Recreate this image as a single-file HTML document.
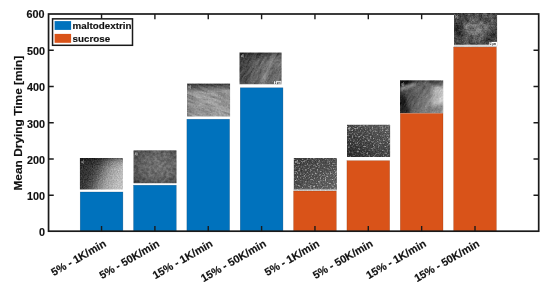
<!DOCTYPE html>
<html lang="en"><head><meta charset="utf-8"><title>Mean Drying Time</title>
<style>html,body{margin:0;padding:0;background:#fff}svg{display:block}text{font-family:"Liberation Sans",sans-serif;font-weight:bold;fill:#111;stroke:#111;stroke-width:0.15px}</style></head><body>
<svg width="550" height="288" viewBox="0 0 550 288">
<defs>
<clipPath id="cp"><rect width="43.4" height="33.4"/></clipPath>
<!-- fine grain -->
<filter id="nz" x="0" y="0" width="100%" height="100%" color-interpolation-filters="sRGB">
<feTurbulence type="fractalNoise" baseFrequency="0.8" numOctaves="2" seed="4" result="t"/>
<feColorMatrix in="t" type="matrix" values="1 0 0 0 0  1 0 0 0 0  1 0 0 0 0  0 0 0 0 1" result="g"/>
<feComposite in="SourceGraphic" in2="g" operator="arithmetic" k1="0" k2="1" k3="0.28" k4="-0.14"/>
</filter>
<!-- mottled blobs -->
<filter id="nzb" x="0" y="0" width="100%" height="100%" color-interpolation-filters="sRGB">
<feTurbulence type="fractalNoise" baseFrequency="0.33" numOctaves="3" seed="7" result="t"/>
<feColorMatrix in="t" type="matrix" values="1 0 0 0 0  1 0 0 0 0  1 0 0 0 0  0 0 0 0 1" result="g"/>
<feComposite in="SourceGraphic" in2="g" operator="arithmetic" k1="0" k2="1" k3="0.3" k4="-0.15"/>
</filter>
<!-- cloudy -->
<filter id="nzc" x="0" y="0" width="100%" height="100%" color-interpolation-filters="sRGB">
<feTurbulence type="fractalNoise" baseFrequency="0.2" numOctaves="3" seed="21" result="t"/>
<feColorMatrix in="t" type="matrix" values="1 0 0 0 0  1 0 0 0 0  1 0 0 0 0  0 0 0 0 1" result="g"/>
<feTurbulence type="fractalNoise" baseFrequency="0.8" numOctaves="2" seed="3" result="t2"/>
<feColorMatrix in="t2" type="matrix" values="1 0 0 0 0  1 0 0 0 0  1 0 0 0 0  0 0 0 0 1" result="g2"/>
<feComposite in="SourceGraphic" in2="g" operator="arithmetic" k1="0" k2="1" k3="0.38" k4="-0.19" result="c1"/>
<feComposite in="c1" in2="g2" operator="arithmetic" k1="0" k2="1" k3="0.3" k4="-0.15"/>
</filter>
<!-- white speckle -->
<filter id="nzs" x="0" y="0" width="100%" height="100%" color-interpolation-filters="sRGB">
<feTurbulence type="fractalNoise" baseFrequency="0.6" numOctaves="2" seed="9" result="t"/>
<feColorMatrix in="t" type="matrix" values="3.2 0 0 0 -1.72  3.2 0 0 0 -1.72  3.2 0 0 0 -1.72  0 0 0 0 1" result="g"/>
<feTurbulence type="fractalNoise" baseFrequency="0.8" numOctaves="2" seed="2" result="t2"/>
<feColorMatrix in="t2" type="matrix" values="1 0 0 0 0  1 0 0 0 0  1 0 0 0 0  0 0 0 0 1" result="g2"/>
<feComposite in="SourceGraphic" in2="g" operator="arithmetic" k1="0" k2="1" k3="0.42" k4="-0.03" result="c1"/>
<feComposite in="c1" in2="g2" operator="arithmetic" k1="0" k2="1" k3="0.24" k4="-0.12"/>
</filter>
<!-- streaks (long in x) + grain -->
<filter id="nzk" x="0" y="0" width="100%" height="100%" color-interpolation-filters="sRGB">
<feTurbulence type="fractalNoise" baseFrequency="0.07 0.45" numOctaves="3" seed="12" result="t"/>
<feColorMatrix in="t" type="matrix" values="1 0 0 0 0  1 0 0 0 0  1 0 0 0 0  0 0 0 0 1" result="g"/>
<feTurbulence type="fractalNoise" baseFrequency="0.75" numOctaves="2" seed="5" result="t2"/>
<feColorMatrix in="t2" type="matrix" values="1 0 0 0 0  1 0 0 0 0  1 0 0 0 0  0 0 0 0 1" result="g2"/>
<feComposite in="SourceGraphic" in2="g" operator="arithmetic" k1="0" k2="1" k3="0.3" k4="-0.15" result="c1"/>
<feComposite in="c1" in2="g2" operator="arithmetic" k1="0" k2="1" k3="0.3" k4="-0.15"/>
</filter>
<filter id="nzk2" x="0" y="0" width="100%" height="100%" color-interpolation-filters="sRGB">
<feTurbulence type="fractalNoise" baseFrequency="0.09 0.6" numOctaves="3" seed="31" result="t"/>
<feColorMatrix in="t" type="matrix" values="1 0 0 0 0  1 0 0 0 0  1 0 0 0 0  0 0 0 0 1" result="g"/>
<feTurbulence type="fractalNoise" baseFrequency="0.75" numOctaves="2" seed="5" result="t2"/>
<feColorMatrix in="t2" type="matrix" values="1 0 0 0 0  1 0 0 0 0  1 0 0 0 0  0 0 0 0 1" result="g2"/>
<feComposite in="SourceGraphic" in2="g" operator="arithmetic" k1="0" k2="1" k3="0.22" k4="-0.11" result="c1"/>
<feComposite in="c1" in2="g2" operator="arithmetic" k1="0" k2="1" k3="0.24" k4="-0.12"/>
</filter>
<filter id="bl1" x="-20%" y="-20%" width="140%" height="140%"><feGaussianBlur stdDeviation="1.6"/></filter>
<filter id="bl2" x="-20%" y="-20%" width="140%" height="140%"><feGaussianBlur stdDeviation="0.8"/></filter>

<linearGradient id="g1" gradientUnits="userSpaceOnUse" x1="-0.5" y1="6.15" x2="45.5" y2="25.65"><stop offset="0" stop-color="#2c2c2c"/><stop offset="0.26" stop-color="#383838"/><stop offset="0.4" stop-color="#545454"/><stop offset="0.5" stop-color="#787878"/><stop offset="0.64" stop-color="#a0a0a0"/><stop offset="0.85" stop-color="#bcbcbc"/><stop offset="1" stop-color="#c4c4c4"/></linearGradient>
<linearGradient id="gtop" x1="0" y1="0" x2="0" y2="1"><stop offset="0" stop-color="#000" stop-opacity="0.75"/><stop offset="0.07" stop-color="#000" stop-opacity="0.4"/><stop offset="0.28" stop-color="#000" stop-opacity="0"/></linearGradient>
<linearGradient id="gtop1" x1="0" y1="0" x2="0" y2="1"><stop offset="0" stop-color="#000" stop-opacity="0.45"/><stop offset="0.1" stop-color="#000" stop-opacity="0.15"/><stop offset="0.3" stop-color="#000" stop-opacity="0"/></linearGradient>
<radialGradient id="g2" cx="0.58" cy="0.48" r="0.72"><stop offset="0" stop-color="#747474"/><stop offset="0.55" stop-color="#626262"/><stop offset="1" stop-color="#444"/></radialGradient>
<linearGradient id="g3" x1="0" y1="0" x2="1" y2="0"><stop offset="0" stop-color="#7a7a7a"/><stop offset="0.3" stop-color="#939393"/><stop offset="1" stop-color="#979797"/></linearGradient>
<linearGradient id="g4" x1="0" y1="0.3" x2="1" y2="0.6"><stop offset="0" stop-color="#222"/><stop offset="0.22" stop-color="#3e3e3e"/><stop offset="0.55" stop-color="#6c6c6c"/><stop offset="1" stop-color="#626262"/></linearGradient>
<linearGradient id="g5" x1="0" y1="0" x2="1" y2="1"><stop offset="0" stop-color="#424242"/><stop offset="0.5" stop-color="#565656"/><stop offset="1" stop-color="#6e6e6e"/></linearGradient>
<linearGradient id="g6" x1="0" y1="1" x2="1" y2="0"><stop offset="0" stop-color="#303030"/><stop offset="0.5" stop-color="#4c4c4c"/><stop offset="1" stop-color="#666"/></linearGradient>
<linearGradient id="g7" gradientUnits="userSpaceOnUse" x1="0" y1="12" x2="43" y2="19"><stop offset="0" stop-color="#303030"/><stop offset="0.15" stop-color="#4c4c4c"/><stop offset="0.42" stop-color="#6a6a6a"/><stop offset="0.68" stop-color="#868686"/><stop offset="0.8" stop-color="#b2b2b2"/><stop offset="1" stop-color="#c6c6c6"/></linearGradient>
<radialGradient id="g8" cx="0.55" cy="0.5" r="0.6"><stop offset="0" stop-color="#727272"/><stop offset="0.5" stop-color="#5a5a5a"/><stop offset="1" stop-color="#424242"/></radialGradient>

<g id="sem1" clip-path="url(#cp)"><g filter="url(#nz)"><rect width="43.4" height="33.4" fill="url(#g1)"/><rect width="43.4" height="33.4" fill="url(#gtop1)"/></g><text x="1.4" y="4.8" font-size="3.3" style="fill:#fff;stroke:none;font-weight:normal" opacity="0.75">a)</text></g>

<g id="sem2" clip-path="url(#cp)"><g filter="url(#nzb)"><rect width="43.4" height="33.4" fill="url(#g2)"/></g><text x="1.4" y="4.8" font-size="3.3" style="fill:#fff;stroke:none;font-weight:normal" opacity="0.75">b)</text></g>

<g id="sem3" clip-path="url(#cp)"><g transform="rotate(20 21.5 15.9)" filter="url(#nzk)"><g transform="rotate(-20 21.5 15.9)"><rect x="-12" y="-12" width="67" height="56" fill="url(#g3)"/><rect width="43.4" height="33.4" fill="url(#gtop)"/><path d="M8 10L40 24L40 27L8 14Z" fill="#fff" opacity="0.22" filter="url(#bl1)"/></g></g><text x="1.4" y="4.8" font-size="3.3" style="fill:#fff;stroke:none;font-weight:normal" opacity="0.75">c)</text></g>

<g id="sem4" clip-path="url(#cp)"><g transform="rotate(-58 21.5 15.9)" filter="url(#nzk)"><g transform="rotate(58 21.5 15.9)"><rect x="-14" y="-14" width="71" height="60" fill="url(#g4)"/><rect width="43.4" height="33.4" fill="url(#gtop1)"/><path d="M20 32L33 0L36 0L24 32Z" fill="#fff" opacity="0.2" filter="url(#bl2)"/></g></g><text x="1.4" y="4.8" font-size="3.3" style="fill:#fff;stroke:none;font-weight:normal" opacity="0.75">d)</text><rect x="34.6" y="28.6" width="7.5" height="3.1" fill="#fff"/><text x="35.2" y="31.1" font-size="2.6" style="fill:#222;stroke:none">2 µm</text></g>

<g id="sem5" clip-path="url(#cp)"><g filter="url(#nzs)"><rect width="43.4" height="33.4" fill="url(#g5)"/></g><rect y="30.9" width="43" height="0.9" fill="#c8c8c8" opacity="0.8"/><text x="1.4" y="4.8" font-size="3.3" style="fill:#fff;stroke:none;font-weight:normal" opacity="0.75">e)</text></g>

<g id="sem6" clip-path="url(#cp)"><g filter="url(#nzs)"><rect width="43.4" height="33.4" fill="url(#g6)"/></g><text x="1.4" y="4.8" font-size="3.3" style="fill:#fff;stroke:none;font-weight:normal" opacity="0.75">f)</text></g>

<g id="sem7" clip-path="url(#cp)"><g transform="rotate(-60 21.5 15.9)" filter="url(#nzk2)"><g transform="rotate(60 21.5 15.9)"><rect x="-14" y="-14" width="71" height="60" fill="url(#g7)"/>
<path d="M0 0L12 0L9 4L0 6Z" fill="#000" opacity="0.7" filter="url(#bl2)"/>
<path d="M0 14L6 16L10 34L0 34Z" fill="#000" opacity="0.55" filter="url(#bl1)"/><path d="M29 27L44 23L44 34L27 34Z" fill="#000" opacity="0.28" filter="url(#bl1)"/>
<path d="M0 6.5L14 2.5L17 4.5L0 11Z" fill="#fff" opacity="0.45" filter="url(#bl2)"/>
<path d="M28 0L43 0L43 6L33 5Z" fill="#000" opacity="0.5" filter="url(#bl1)"/>
<path d="M27 4L17 20L10 31M23 5L14 20M31 6L22 20L17 31" fill="none" stroke="#000" stroke-width="0.9" opacity="0.3" filter="url(#bl2)"/>
<path d="M24 6C27 9 30 12 29 18" fill="none" stroke="#000" stroke-width="1" opacity="0.35" filter="url(#bl2)"/>
<rect width="43.4" height="33.4" fill="url(#gtop1)"/></g></g><text x="1.4" y="4.8" font-size="3.3" style="fill:#fff;stroke:none;font-weight:normal" opacity="0.75">g)</text></g>

<g id="sem8" clip-path="url(#cp)"><g filter="url(#nzc)"><rect width="43.4" height="33.4" fill="url(#g8)"/>
<path d="M1 10L8 12L9 20L4 24L0 22Z" fill="#000" opacity="0.5" filter="url(#bl1)"/>
<path d="M30 20L43 16L43 30L30 30Z" fill="#000" opacity="0.25" filter="url(#bl1)"/>
<path d="M12 14C18 10 26 12 28 17C27 21 20 22 14 20" fill="none" stroke="#fff" stroke-width="1.6" opacity="0.3" filter="url(#bl2)"/>
</g><text x="1.4" y="4.8" font-size="3.3" style="fill:#fff;stroke:none;font-weight:normal" opacity="0.75">h)</text><rect y="31.6" width="43.4" height="1.8" fill="#dadada"/><rect x="35.4" y="28.8" width="7.8" height="3.7" fill="#fff"/><text x="36" y="31.6" font-size="2.7" style="fill:#222;stroke:none">2 µm</text></g>
</defs>

<rect width="550" height="288" fill="#fff"/>
<rect x="80.20" y="192.00" width="42.7" height="39.30" fill="#0072bd" stroke="#003a66" stroke-opacity="0.55" stroke-width="0.45"/>
<rect x="133.55" y="185.20" width="42.7" height="46.10" fill="#0072bd" stroke="#003a66" stroke-opacity="0.55" stroke-width="0.45"/>
<rect x="186.90" y="119.20" width="42.7" height="112.10" fill="#0072bd" stroke="#003a66" stroke-opacity="0.55" stroke-width="0.45"/>
<rect x="240.25" y="87.80" width="42.7" height="143.50" fill="#0072bd" stroke="#003a66" stroke-opacity="0.55" stroke-width="0.45"/>
<rect x="293.60" y="191.00" width="42.7" height="40.30" fill="#d95319" stroke="#7a2a06" stroke-opacity="0.55" stroke-width="0.45"/>
<rect x="346.95" y="160.70" width="42.7" height="70.60" fill="#d95319" stroke="#7a2a06" stroke-opacity="0.55" stroke-width="0.45"/>
<rect x="400.30" y="113.40" width="42.7" height="117.90" fill="#d95319" stroke="#7a2a06" stroke-opacity="0.55" stroke-width="0.45"/>
<rect x="453.65" y="47.10" width="42.7" height="184.20" fill="#d95319" stroke="#7a2a06" stroke-opacity="0.55" stroke-width="0.45"/>
<rect x="48.55" y="14.0" width="490.15" height="217.20" fill="none" stroke="#1a1a1a" stroke-width="1.7"/>
<path d="M101.55 231.2v-5.2M101.55 14.0v5.2" stroke="#1a1a1a" stroke-width="1.4" fill="none"/>
<path d="M154.90 231.2v-5.2M154.90 14.0v5.2" stroke="#1a1a1a" stroke-width="1.4" fill="none"/>
<path d="M208.25 231.2v-5.2M208.25 14.0v5.2" stroke="#1a1a1a" stroke-width="1.4" fill="none"/>
<path d="M261.60 231.2v-5.2M261.60 14.0v5.2" stroke="#1a1a1a" stroke-width="1.4" fill="none"/>
<path d="M314.95 231.2v-5.2M314.95 14.0v5.2" stroke="#1a1a1a" stroke-width="1.4" fill="none"/>
<path d="M368.30 231.2v-5.2M368.30 14.0v5.2" stroke="#1a1a1a" stroke-width="1.4" fill="none"/>
<path d="M421.65 231.2v-5.2M421.65 14.0v5.2" stroke="#1a1a1a" stroke-width="1.4" fill="none"/>
<path d="M475.00 231.2v-5.2M475.00 14.0v5.2" stroke="#1a1a1a" stroke-width="1.4" fill="none"/>
<path d="M48.55 195.32h5.2M538.7 195.32h-5.2" stroke="#1a1a1a" stroke-width="1.4" fill="none"/>
<path d="M48.55 159.04h5.2M538.7 159.04h-5.2" stroke="#1a1a1a" stroke-width="1.4" fill="none"/>
<path d="M48.55 122.76h5.2M538.7 122.76h-5.2" stroke="#1a1a1a" stroke-width="1.4" fill="none"/>
<path d="M48.55 86.48h5.2M538.7 86.48h-5.2" stroke="#1a1a1a" stroke-width="1.4" fill="none"/>
<path d="M48.55 50.20h5.2M538.7 50.20h-5.2" stroke="#1a1a1a" stroke-width="1.4" fill="none"/>
<text x="45.1" y="236.10" font-size="10.8" text-anchor="end">0</text>
<text x="45.1" y="200.22" font-size="10.8" text-anchor="end">100</text>
<text x="45.1" y="163.94" font-size="10.8" text-anchor="end">200</text>
<text x="45.1" y="127.66" font-size="10.8" text-anchor="end">300</text>
<text x="45.1" y="91.38" font-size="10.8" text-anchor="end">400</text>
<text x="45.1" y="55.10" font-size="10.8" text-anchor="end">500</text>
<text x="44.6" y="18.10" font-size="10.8" text-anchor="end">600</text>
<text transform="translate(21.9 123.2) rotate(-90) scale(1.055 1)" font-size="11.3" text-anchor="middle">Mean Drying Time [min]</text>
<text transform="translate(106.85 245.7) rotate(-30)" font-size="10.8" text-anchor="end">5% - 1K/min</text>
<text transform="translate(160.20 245.7) rotate(-30)" font-size="10.8" text-anchor="end">5% - 50K/min</text>
<text transform="translate(213.55 245.7) rotate(-30)" font-size="10.8" text-anchor="end">15% - 1K/min</text>
<text transform="translate(266.90 245.7) rotate(-30)" font-size="10.8" text-anchor="end">15% - 50K/min</text>
<text transform="translate(320.25 245.7) rotate(-30)" font-size="10.8" text-anchor="end">5% - 1K/min</text>
<text transform="translate(373.60 245.7) rotate(-30)" font-size="10.8" text-anchor="end">5% - 50K/min</text>
<text transform="translate(426.95 245.7) rotate(-30)" font-size="10.8" text-anchor="end">15% - 1K/min</text>
<text transform="translate(480.30 245.7) rotate(-30)" font-size="10.8" text-anchor="end">15% - 50K/min</text>
<clipPath id="c1"><rect width="43.1" height="31.7"/></clipPath><g transform="translate(79.80 157.90)" clip-path="url(#c1)"><use href="#sem1"/></g>
<clipPath id="c2"><rect width="43.1" height="32.9"/></clipPath><g transform="translate(133.40 150.30)" clip-path="url(#c2)"><use href="#sem2"/></g>
<clipPath id="c3"><rect width="43.1" height="33.0"/></clipPath><g transform="translate(187.00 83.50)" clip-path="url(#c3)"><use href="#sem3"/></g>
<clipPath id="c4"><rect width="42.1" height="31.7"/></clipPath><g transform="translate(239.50 52.60)" clip-path="url(#c4)"><use href="#sem4"/></g>
<clipPath id="c5"><rect width="43.1" height="32.3"/></clipPath><g transform="translate(293.80 158.00)" clip-path="url(#c5)"><use href="#sem5"/></g>
<clipPath id="c6"><rect width="43.1" height="32.3"/></clipPath><g transform="translate(347.00 124.80)" clip-path="url(#c6)"><use href="#sem6"/></g>
<clipPath id="c7"><rect width="43.3" height="32.7"/></clipPath><g transform="translate(400.00 80.30)" clip-path="url(#c7)"><use href="#sem7"/></g>
<clipPath id="c8"><rect width="43.1" height="33.2"/></clipPath><g transform="translate(454.00 13.10)" clip-path="url(#c8)"><use href="#sem8"/></g>
<rect x="52.55" y="18.85" width="79.95" height="26.45" fill="#fff" stroke="#1a1a1a" stroke-width="1.5"/>
<rect x="54.6" y="21.1" width="16.5" height="8.8" fill="#0072bd"/>
<rect x="54.6" y="33.9" width="16.5" height="8.9" fill="#d95319"/>
<text transform="translate(72.6 29.25) scale(1.085 1)" font-size="9.05">maltodextrin</text>
<text transform="translate(72.6 42.25) scale(1.085 1)" font-size="9.05">sucrose</text>
</svg></body></html>
